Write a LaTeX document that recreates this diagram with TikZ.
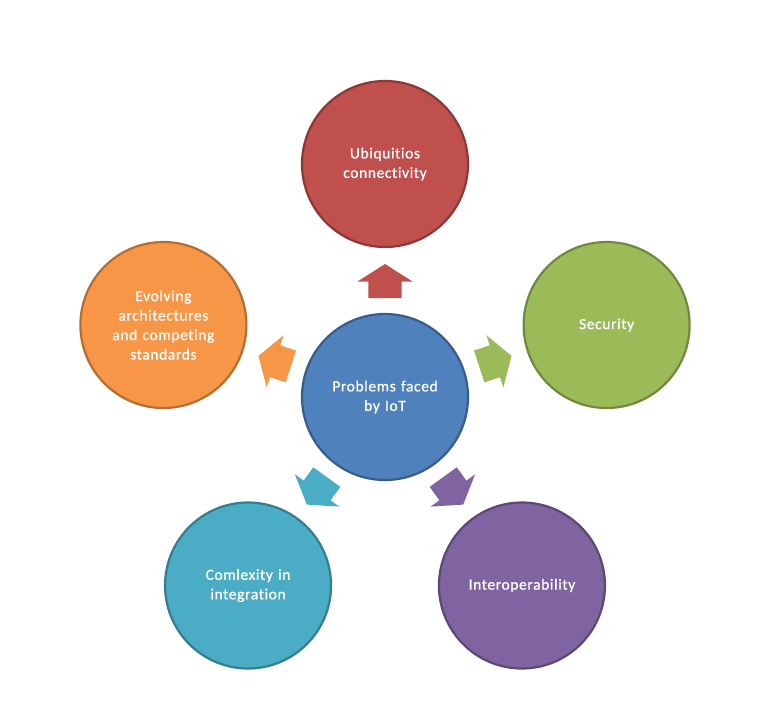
\documentclass[tikz,border=0pt]{standalone}
\usepackage{fontspec}
\setmainfont{Carlito}[Ligatures=NoCommon,LetterSpace=4,FakeBold=0.8]
\definecolor{cBlue}{HTML}{4F81BD}\definecolor{bBlue}{HTML}{385D8A}
\definecolor{cRed}{HTML}{C0504D}\definecolor{bRed}{HTML}{8C3836}
\definecolor{cGreen}{HTML}{9BBB59}\definecolor{bGreen}{HTML}{71893F}
\definecolor{cPurple}{HTML}{8064A2}\definecolor{bPurple}{HTML}{5C4776}
\definecolor{cAqua}{HTML}{4BACC6}\definecolor{bAqua}{HTML}{357D91}
\definecolor{cOrange}{HTML}{F79646}\definecolor{bOrange}{HTML}{B66D31}
\begin{document}
\begin{tikzpicture}[x=1pt,y=1pt,
  bubble/.style={circle,minimum size=166pt,inner sep=0pt,line width=2.2pt,
    text=white,align=center,font=\fontsize{15.5}{19.5}\selectfont,text width=150pt},
  outarrow/.style={shift={(385,-397)},rotate=#1}]
\useasboundingbox (0,0) rectangle (770,-710);
\node[bubble,fill=cBlue,draw=bBlue] (c) at (385,-397) {Problems faced\\by IoT};
\node[bubble,fill=cRed,draw=bRed] (s1) at ([shift={(90:233)}]c.center) {Ubiquitios\\connectivity};
\node[bubble,fill=cGreen,draw=bGreen] (s2) at ([shift={(18:233)}]c.center) {Security};
\node[bubble,fill=cPurple,draw=bPurple] (s3) at ([shift={(-54:233)}]c.center) {Interoperability};
\node[bubble,fill=cAqua,draw=bAqua] (s4) at ([shift={(-126:233)}]c.center) {Comlexity in\\integration};
\node[bubble,fill=cOrange,draw=bOrange] (s5) at ([shift={(162:233)}]c.center) {Evolving\\architectures\\and competing\\standards};
\foreach \a/\col in {90/cRed,18/cGreen,-54/cPurple,-126/cAqua,162/cOrange}{
  \fill[\col,outarrow=\a] (99,-16.7) -- (115.5,-16.7) -- (115.5,-27.5) -- (133,0)
    -- (115.5,27.5) -- (115.5,16.7) -- (99,16.7) -- cycle;
}
\end{tikzpicture}
\end{document}
